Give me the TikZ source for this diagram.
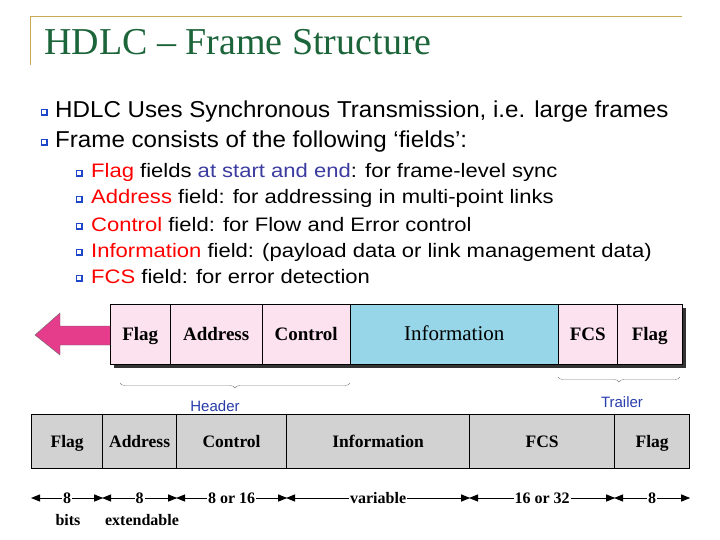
\documentclass[tikz,border=0pt]{standalone}
\usepackage{fontspec}
\setmainfont{Liberation Serif}
\newfontfamily\arialf{Liberation Sans}
\newfontfamily\arialm{Liberation Sans}[FakeStretch=1.05]
\newfontfamily\arials{Liberation Sans}[FakeStretch=1.13]
\usetikzlibrary{arrows.meta}
\usetikzlibrary{decorations.pathreplacing}

\definecolor{titlegreen}{RGB}{28,100,58}
\definecolor{rulegold}{RGB}{200,170,80}
\definecolor{markblue}{RGB}{30,70,200}
\definecolor{fieldpink}{RGB}{252,226,238}
\definecolor{infoblue}{RGB}{150,214,232}
\definecolor{arrowpink}{RGB}{230,60,140}
\definecolor{capblue}{RGB}{40,60,170}
\definecolor{midblue}{RGB}{60,60,160}

\tikzset{
  topfield/.style={draw, fill=fieldpink, minimum height=60pt, inner sep=0pt,
    text height=13pt, text depth=0pt,
    anchor=north west, font=\fontsize{19}{19}\selectfont\bfseries},
  lowfield/.style={draw, line width=1.2pt, fill=gray!35, minimum height=54pt, inner sep=0pt,
    text height=12pt, text depth=0pt,
    anchor=north west, font=\fontsize{17.5}{17.5}\selectfont\bfseries},
  sizearrow/.style={{Triangle[length=9pt,width=7pt]}-{Triangle[length=9pt,width=7pt]}, line width=1pt},
  sizelabel/.style={fill=white, inner sep=1pt, font=\fontsize{16}{16}\selectfont\bfseries},
  bullettext/.style={anchor=base west, inner sep=0pt, font=\arialm\fontsize{23}{23}\selectfont},
  subtext/.style={anchor=base west, inner sep=0pt, font=\arials\fontsize{19.5}{19.5}\selectfont},
}

\newcommand{\boxmark}[2]{%
  \fill[markblue] (#1-3,#2-3) rectangle (#1+4,#2+4);
  \fill[white] (#1-3.2,#2-3.2) rectangle (#1+2,#2+2);
  \draw[markblue, line width=0.6pt] (#1-3,#2-3) rectangle (#1+3,#2+3);
}

\begin{document}
\begin{tikzpicture}[x=1pt,y=-1pt]
  \useasboundingbox (0,0) rectangle (720,540);

  % title
  \draw[rulegold, line width=1pt] (30,65) -- (30,17) -- (682,17);
  \node[anchor=base west, inner sep=0pt, text=titlegreen, font=\fontsize{38}{38}\selectfont] (title) at (44,55) {HDLC -- Frame Structure};

  % bullets
  \boxmark{44}{112}
  \node[bullettext] (b1) at (55,118) {HDLC Uses Synchronous Transmission, i.e. large frames};
  \boxmark{44}{142}
  \node[bullettext] (b2) at (55,148) {Frame consists of the following ‘fields’:};

  \boxmark{79}{173}
  \node[subtext] (s1) at (91,178) {\textcolor{red}{Flag} fields \textcolor{midblue}{at start and end}: for frame-level sync};
  \boxmark{79}{199}
  \node[subtext] (s2) at (91,204) {\textcolor{red}{Address} field: for addressing in multi-point links};
  \boxmark{79}{226}
  \node[subtext] (s3) at (91,231) {\textcolor{red}{Control} field: for Flow and Error control};
  \boxmark{79}{252}
  \node[subtext] (s4) at (91,257) {\textcolor{red}{Information} field: (payload data or link management data)};
  \boxmark{79}{278}
  \node[subtext] (s5) at (91,283) {\textcolor{red}{FCS} field: for error detection};

  % upper frame
  \fill[black!80] (114,308) rectangle (686,368);
  \node[topfield, minimum width=60pt] (uflag) at (110,304) {Flag};
  \node[topfield, minimum width=92pt] (uaddr) at (170,304) {Address};
  \node[topfield, minimum width=88pt] (uctrl) at (262,304) {Control};
  \node[topfield, minimum width=208pt, fill=infoblue, font=\fontsize{21}{21}\selectfont] (uinfo) at (350,304) {Information};
  \node[topfield, minimum width=59pt] (ufcs) at (558,304) {FCS};
  \node[topfield, minimum width=65pt] (uflagb) at (617,304) {Flag};
  \draw[fill=arrowpink, draw=black!60] (uflag.west |- 0,326) -- (60,326) -- (60,313) -- (35,335)
    -- (60,355) -- (60,345) -- (uflag.west |- 0,345);

  % braces
  \draw[decorate, decoration={brace, amplitude=5pt}, gray] (350,383) -- (120,383);
  \draw[decorate, decoration={brace, amplitude=5pt}, gray] (680,377) -- (558,377);
  \node[text=capblue, font=\arialf\fontsize{15}{15}\selectfont] (header) at (215,406) {Header};
  \node[text=capblue, font=\arialf\fontsize{15}{15}\selectfont] (trailer) at (622,402) {Trailer};

  % lower frame
  \node[lowfield, minimum width=71pt] (lflag) at (31,414) {Flag};
  \node[lowfield, minimum width=74pt] (laddr) at (102,414) {Address};
  \node[lowfield, minimum width=110pt] (lctrl) at (176,414) {Control};
  \node[lowfield, minimum width=183pt] (linfo) at (286,414) {Information};
  \node[lowfield, minimum width=145pt] (lfcs) at (469,414) {FCS};
  \node[lowfield, minimum width=75pt] (lflagb) at (614,414) {Flag};

  % sizes
  \foreach \f/\t in {lflag/8, laddr/8, lctrl/8 or 16, linfo/variable, lfcs/16 or 32, lflagb/8} {
    \coordinate (\f-l) at (\f.west |- 0,498);
    \coordinate (\f-r) at (\f.east |- 0,498);
    \draw[sizearrow] (\f-l) -- (\f-r) node[midway, sizelabel] {\t};
  }
  \node[font=\fontsize{16}{16}\selectfont\bfseries] (bits) at (68,520) {bits};
  \node[font=\fontsize{16}{16}\selectfont\bfseries] (extd) at (142,520) {extendable};
\end{tikzpicture}
\end{document}
